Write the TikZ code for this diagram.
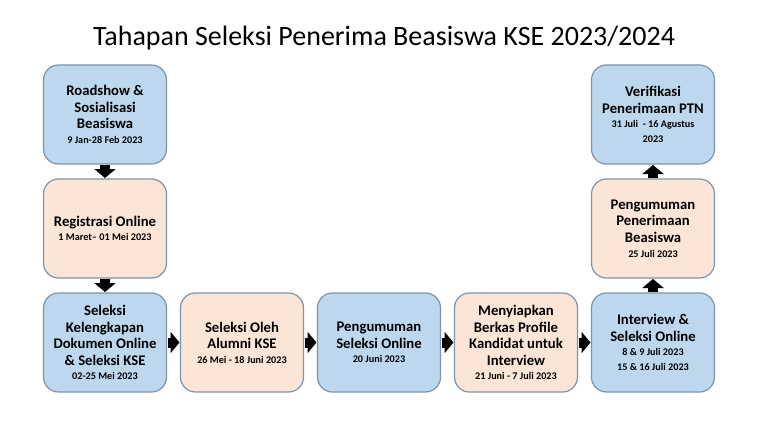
\documentclass[tikz,border=0pt]{standalone}
\usepackage{fontspec}
\setmainfont{Carlito}
\usetikzlibrary{positioning, arrows.meta}
\definecolor{boxblue}{RGB}{189,215,238}
\definecolor{boxpeach}{RGB}{251,229,214}
\definecolor{boxline}{RGB}{125,148,172}
\tikzset{%
	stage/.style={draw=boxline, line width=1.2pt, rectangle, rounded corners=15pt,%
		minimum width=123pt, minimum height=99pt, inner sep=2pt, outer sep=0pt,%
		text width=119pt, align=flush center, font=\fontsize{14.7}{16.6}\selectfont\bfseries},
	bluestage/.style={stage, fill=boxblue},
	peachstage/.style={stage, fill=boxpeach},
	flow/.style={line width=10pt, -{Triangle[width=21pt,length=9pt]},%
		shorten <=1pt, shorten >=1pt},
	judul/.style={font=\fontsize{28}{30}\selectfont}
}
\newcommand{\tgl}[1]{\\[-2pt]{\fontsize{10.2}{12}\selectfont #1}}

\begin{document}
\begin{tikzpicture}[x=1pt, y=-1pt, node distance=15pt and 14pt]
	\fill[white] (0,0) rectangle (768,433);
	\useasboundingbox (0,0) rectangle (768,433);
	\node[judul] (title) at (384,38) {Tahapan Seleksi Penerima Beasiswa KSE 2023/2024};

	\node[bluestage] (roadshow) at (105,114.5) {Roadshow \&\\Sosialisasi\\Beasiswa\tgl{9 Jan-28 Feb 2023}};
	\node[peachstage, below=of roadshow] (registrasi) {Registrasi Online\tgl{1 Maret-- 01 Mei 2023}};
	\node[bluestage, below=of registrasi] (kelengkapan) {Seleksi\\Kelengkapan\\Dokumen Online\\\& Seleksi KSE\tgl{02-25 Mei 2023}};
	\node[peachstage, right=of kelengkapan] (alumni) {Seleksi Oleh\\Alumni KSE\tgl{26 Mei - 18 Juni 2023}};
	\node[bluestage, right=of alumni] (pengumuman) {Pengumuman\\Seleksi Online\tgl{20 Juni 2023}};
	\node[peachstage, right=of pengumuman] (berkas) {Menyiapkan\\Berkas Profile\\Kandidat untuk\\Interview\tgl{21 Juni - 7 Juli 2023}};
	\node[bluestage, right=of berkas] (interview) {Interview \&\\Seleksi Online\tgl{8 \& 9 Juli 2023}\tgl{15 \& 16 Juli 2023}};
	\node[peachstage, above=of interview] (penerimaan) {Pengumuman\\Penerimaan\\Beasiswa\tgl{25 Juli 2023}};
	\node[bluestage, above=of penerimaan] (verifikasi) {Verifikasi\\Penerimaan PTN\tgl{31 Juli~ - 16 Agustus}\tgl{2023}};

	\draw[flow] (roadshow) -- (registrasi);
	\draw[flow] (registrasi) -- (kelengkapan);
	\draw[flow] (kelengkapan) -- (alumni);
	\draw[flow] (alumni) -- (pengumuman);
	\draw[flow] (pengumuman) -- (berkas);
	\draw[flow] (berkas) -- (interview);
	\draw[flow] (interview) -- (penerimaan);
	\draw[flow] (penerimaan) -- (verifikasi);
\end{tikzpicture}
\end{document}
